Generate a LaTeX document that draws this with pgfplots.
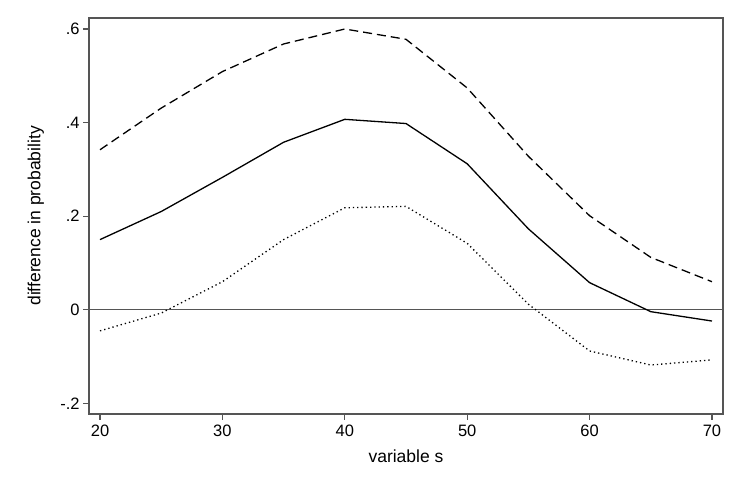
\documentclass[border=0pt]{standalone}
\usepackage{fontspec}
\setmainfont{Liberation Sans}
\usepackage{pgfplots}
\pgfplotsset{compat=1.18}
\definecolor{axgray}{RGB}{85,85,85}
\begin{document}
\begin{tikzpicture}
\path[use as bounding box] (0,0) rectangle (741bp,494bp);
\begin{axis}[
  at={(89.3bp,80.3bp)}, anchor=south west,
  scale only axis, width=633.4bp, height=395.7bp,
  xmin=19.125, xmax=70.875, ymin=-0.222, ymax=0.6235,
  xtick={20,30,40,50,60,70},
  ytick={-0.2,0,0.2,0.4,0.6},
  yticklabels={-.2,0,.2,.4,.6},
  xtick pos=left, ytick pos=left,
  tick align=outside,
  major tick length=6bp,
  tick style={axgray, line width=1.3bp},
  axis line style={axgray, line width=1.6bp},
  /pgf/number format/assume math mode=true,
  tick label style={font=\fontsize{16.5bp}{19bp}\selectfont, inner sep=0pt},
  xticklabel style={anchor=north, yshift=-5.5bp},
  yticklabel style={anchor=east, xshift=-3.5bp},
  label style={font=\fontsize{17.5bp}{20bp}\selectfont},
  xlabel={variable s},
  ylabel={difference in probability},
  xlabel style={anchor=base, at={(axis description cs:0.5,0)}, yshift=-48.6bp},
  ylabel style={anchor=base, at={(axis description cs:0,0.5)}, yshift=49bp},
  clip=false,
]
\addplot[axgray, line width=1.3bp] coordinates {(19.125,0) (70.875,0)};
\addplot[black, line width=1.3bp, dash pattern=on 9bp off 5bp] coordinates {
(20,0.342) (25,0.431) (30,0.509) (35,0.568) (40,0.600) (45,0.578)
(50,0.474) (55,0.328) (60,0.201) (65,0.112) (70,0.060)};
\addplot[black, line width=1.3bp] coordinates {
(20,0.150) (25,0.210) (30,0.283) (35,0.358) (40,0.407) (45,0.398)
(50,0.312) (55,0.173) (60,0.058) (65,-0.004) (70,-0.024)};
\addplot[black, line width=1.3bp, dash pattern=on 1.3bp off 3bp] coordinates {
(20,-0.045) (25,-0.007) (30,0.060) (35,0.150) (40,0.218) (45,0.221)
(50,0.142) (55,0.012) (60,-0.088) (65,-0.118) (70,-0.107)};
\end{axis}
\end{tikzpicture}
\end{document}
